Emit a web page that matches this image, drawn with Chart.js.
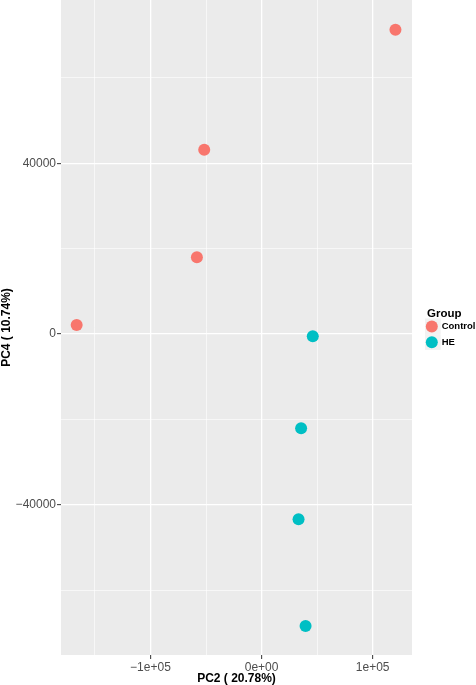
<!DOCTYPE html>
<html>
<head>
<meta charset="utf-8">
<script src="https://cdn.jsdelivr.net/npm/chart.js@4/dist/chart.umd.min.js"></script>
<style>
  html, body { margin: 0; padding: 0; background: #ffffff; }
  canvas { display: block; }
</style>
</head>
<body>
<canvas id="pcaChart" width="476" height="685"></canvas>
<script>
// Data
const groups = ['Control', 'HE'];
const groupColors = ['#F8766D', '#00BFC4'];
const controlPC2 = [120500, -51600, -58200, -166400];
const controlPC4 = [71300, 43200, 18000, 2100];
const hePC2 = [46100, 35600, 33300, 39600];
const hePC4 = [-540, -22100, -43400, -68400];
const xGridValues = [-150000, -100000, -50000, 0, 50000, 100000];
const yGridValues = [-60000, -40000, -20000, 0, 20000, 40000, 60000];
const xTickLabels = { '-100000': '\u22121e+05', '0': '0e+00', '100000': '1e+05' };
const yTickLabels = { '-40000': '\u221240000', '0': '0', '40000': '40000' };

const toPoints = (xs, ys) => xs.map((x, i) => ({ x: x, y: ys[i] }));

const isMajor = (value, step) => Math.abs(value % step) < 1e-6;

// panel background, ggplot grey
const panelBackground = {
  id: 'panelBackground',
  beforeDraw(chart) {
    const { ctx, chartArea } = chart;
    ctx.save();
    ctx.fillStyle = '#EBEBEB';
    ctx.fillRect(chartArea.left, chartArea.top, chartArea.right - chartArea.left, chartArea.bottom - chartArea.top);
    ctx.restore();
  }
};

// legend drawn ggplot style on the right
const groupLegend = {
  id: 'groupLegend',
  afterDraw(chart) {
    const ctx = chart.ctx;
    const left = 425;
    ctx.save();
    ctx.fillStyle = '#000000';
    ctx.font = 'bold 11.5px "Liberation Sans", Arial, sans-serif';
    ctx.textBaseline = 'alphabetic';
    ctx.textAlign = 'left';
    ctx.fillText('Group', 427, 317);
    chart.data.datasets.forEach((ds, i) => {
      const top = 318.5 + i * 15.7;
      ctx.fillStyle = '#F2F2F2';
      ctx.fillRect(left, top, 15.7, 15.7);
      ctx.beginPath();
      ctx.arc(left + 6.8, top + 8.1, 6, 0, Math.PI * 2);
      ctx.fillStyle = ds.backgroundColor;
      ctx.fill();
      ctx.fillStyle = '#000000';
      ctx.font = 'bold 9.5px "Liberation Sans", Arial, sans-serif';
      ctx.textBaseline = 'middle';
      ctx.fillText(ds.label, 441.7, top + 8.3);
    });
    ctx.restore();
  }
};

const gridColor = '#FFFFFF';
const tickFont = { family: '"Liberation Sans", Arial, sans-serif', size: 12 };
const titleFont = { family: '"Liberation Sans", Arial, sans-serif', size: 12, weight: 'bold' };

const pcaChart = new Chart(document.getElementById('pcaChart').getContext('2d'), {
  type: 'scatter',
  data: {
    datasets: [
      {
        label: groups[0],
        data: toPoints(controlPC2, controlPC4),
        backgroundColor: groupColors[0],
        borderWidth: 0,
        pointRadius: 6,
        pointHoverRadius: 6
      },
      {
        label: groups[1],
        data: toPoints(hePC2, hePC4),
        backgroundColor: groupColors[1],
        borderWidth: 0,
        pointRadius: 6,
        pointHoverRadius: 6
      }
    ]
  },
  options: {
    responsive: false,
    animation: false,
    events: [],
    layout: { autoPadding: false, padding: { top: 0, right: 64, bottom: 0, left: 0 } },
    plugins: {
      legend: { display: false },
      tooltip: { enabled: false }
    },
    scales: {
      x: {
        type: 'linear',
        min: -180500,
        max: 135400,
        afterBuildTicks: (scale) => { scale.ticks = xGridValues.map(v => ({ value: v })); },
        afterFit: (scale) => {
          scale.height = 30;
          scale.paddingLeft = 0;
          scale.paddingRight = 0;
        },
        border: { display: false },
        grid: {
          color: gridColor,
          lineWidth: (ctx) => isMajor(ctx.tick.value, 100000) ? 1.3 : 0.6,
          tickColor: (ctx) => isMajor(ctx.tick.value, 100000) ? '#333333' : 'rgba(0,0,0,0)',
          tickWidth: 1,
          tickLength: 4
        },
        ticks: {
          autoSkip: false,
          maxRotation: 0,
          padding: 1,
          color: '#4D4D4D',
          font: tickFont,
          callback: (value) => xTickLabels[String(value)] || ''
        },
        title: {
          display: true,
          text: 'PC2 ( 20.78%)',
          color: '#000000',
          font: { ...titleFont, lineHeight: 1.1 },
          padding: 0
        }
      },
      y: {
        type: 'linear',
        min: -75220,
        max: 78270,
        afterBuildTicks: (scale) => { scale.ticks = yGridValues.map(v => ({ value: v })); },
        afterFit: (scale) => {
          scale.width = 61;
          scale.paddingTop = 0;
          scale.paddingBottom = 0;
        },
        border: { display: false },
        grid: {
          color: gridColor,
          lineWidth: (ctx) => isMajor(ctx.tick.value, 40000) ? 1.3 : 0.6,
          tickColor: (ctx) => isMajor(ctx.tick.value, 40000) ? '#333333' : 'rgba(0,0,0,0)',
          tickWidth: 1,
          tickLength: 4
        },
        ticks: {
          autoSkip: false,
          padding: 1,
          color: '#4D4D4D',
          font: tickFont,
          callback: (value) => yTickLabels[String(value)] || ''
        },
        title: {
          display: true,
          text: 'PC4 ( 10.74%)',
          color: '#000000',
          font: { ...titleFont, lineHeight: 1.1 },
          padding: 0
        }
      }
    }
  },
  plugins: [panelBackground, groupLegend]
});
</script>
</body>
</html>
